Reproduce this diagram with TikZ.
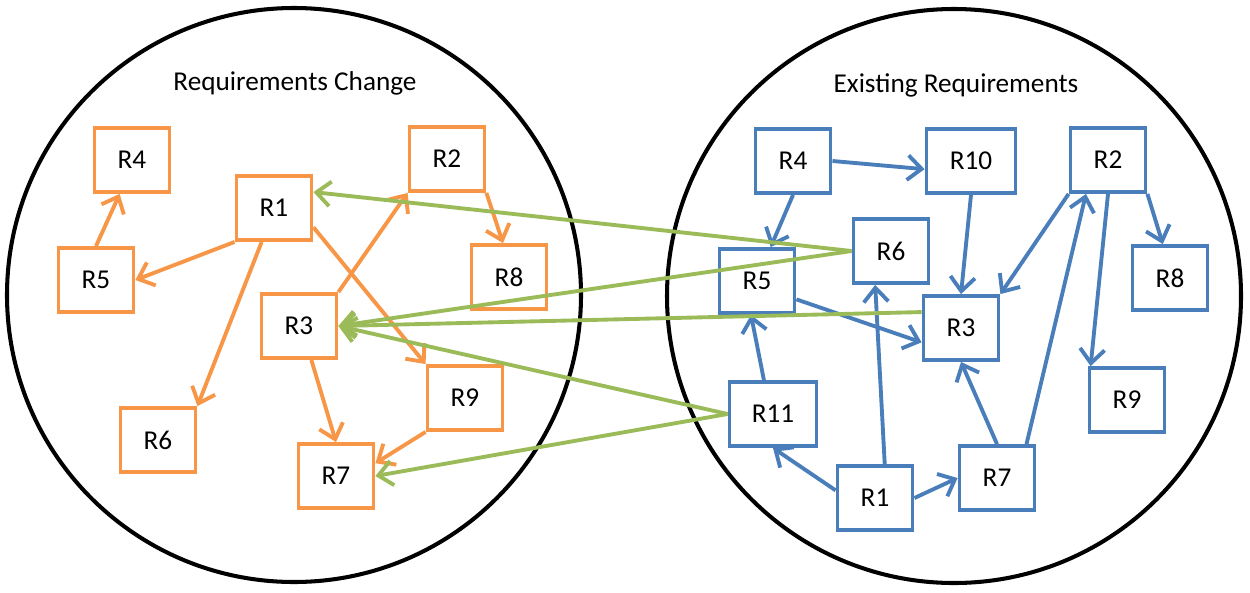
\documentclass[tikz,border=0pt]{standalone}
\usepackage{fontspec}
\setmainfont{Carlito}
\usetikzlibrary{arrows.meta}
\definecolor{chgorange}{RGB}{247,150,70}
\definecolor{exblue}{RGB}{74,126,187}
\definecolor{trgreen}{RGB}{155,187,89}
\begin{document}
\begin{tikzpicture}[x=0.02cm,y=-0.02cm,
 font=\fontsize{15.5}{18}\selectfont,
 req/.style={draw,line width=2.2pt,fill=white,minimum width=1.5cm,minimum height=1.28cm},
 chg/.style={req,draw=chgorange},
 ex/.style={req,draw=exblue},
 dep/.style={line width=2.2pt,-{Straight Barb[length=8pt,width=14pt]}},
 chgdep/.style={dep,draw=chgorange},
 exdep/.style={dep,draw=exblue},
 trace/.style={dep,draw=trgreen}]
 \useasboundingbox (0,0) rectangle (1250,592);
 \draw[line width=2.3pt] (294,295) circle[radius=287];
 \draw[line width=2.3pt] (954,296) circle[radius=287];
 \node (lTitle) at (295,83) {Requirements Change};
 \node (rTitle) at (956,85) {Existing Requirements};
 % requirements change
 \node[chg] (lR4) at (132,160) {R4};
 \node[chg] (lR1) at (274,208) {R1};
 \node[chg] (lR2) at (447,159) {R2};
 \node[chg] (lR5) at (96,280) {R5};
 \node[chg] (lR8) at (509,277) {R8};
 \node[chg] (lR3) at (299,326) {R3};
 \node[chg] (lR9) at (465,398) {R9};
 \node[chg] (lR6) at (158,440) {R6};
 \node[chg] (lR7) at (336,476) {R7};
 \draw[chgdep] (lR1.south west) -- (lR5.east);
 \draw[chgdep] (lR5.north) -- (lR4.250);
 \draw[chgdep] (lR1.250) -- (lR6.north east);
 \draw[chgdep] (lR1.-26) -- (lR9.north west);
 \draw[chgdep] (lR3.north east) -- (lR2.south west);
 \draw[chgdep] (lR2.south east) -- (lR8.100);
 \draw[chgdep] (lR3.-70) -- (lR7.north);
 \draw[chgdep] (lR9.south west) -- (lR7.18);
 % existing requirements
 \node[ex] (rR4) at (793,161) {R4};
 \node[ex,minimum width=1.78cm] (rR10) at (971,161) {R10};
 \node[ex] (rR2) at (1108,160) {R2};
 \node[ex] (rR6) at (891,251) {R6};
 \node[ex] (rR5) at (757,281) {R5};
 \node[ex] (rR8) at (1170,278) {R8};
 \node[ex] (rR3) at (961,328) {R3};
 \node[ex] (rR9) at (1127,400) {R9};
 \node[ex,minimum width=1.74cm] (rR11) at (773,414) {R11};
 \node[ex] (rR7) at (997,478) {R7};
 \node[ex] (rR1) at (875,498) {R1};
 \draw[exdep] (rR4.east) -- (rR10.190);
 \draw[exdep] (rR4.south) -- (rR5.68);
 \draw[exdep] (rR10.south) -- (rR3.north);
 \draw[exdep] (rR2.south west) -- (rR3.north east);
 \draw[exdep] (rR2.south east) -- (rR8.102);
 \draw[exdep] (rR2.south) -- (rR9.137);
 \draw[exdep] (rR7.49) -- (rR2.237);
 \draw[exdep] (rR5.-25) -- (rR3.200);
 \draw[exdep] (rR11.105) -- (rR5.260);
 \draw[exdep] (rR1.169) -- (rR11.south);
 \draw[exdep] (rR1.74) -- (rR6.245);
 \draw[exdep] (rR1.east) -- (rR7.west);
 \draw[exdep] (rR7.north) -- (rR3.south);
 % traces
 \draw[trace] (rR6.west) -- (lR1.22);
 \draw[trace] (rR6.west) -- (lR3.east);
 \draw[trace] (rR3.158) -- (lR3.east);
 \draw[trace] (rR11.west) -- (lR3.east);
 \draw[trace] (rR11.west) -- (lR7.east);
\end{tikzpicture}
\end{document}
